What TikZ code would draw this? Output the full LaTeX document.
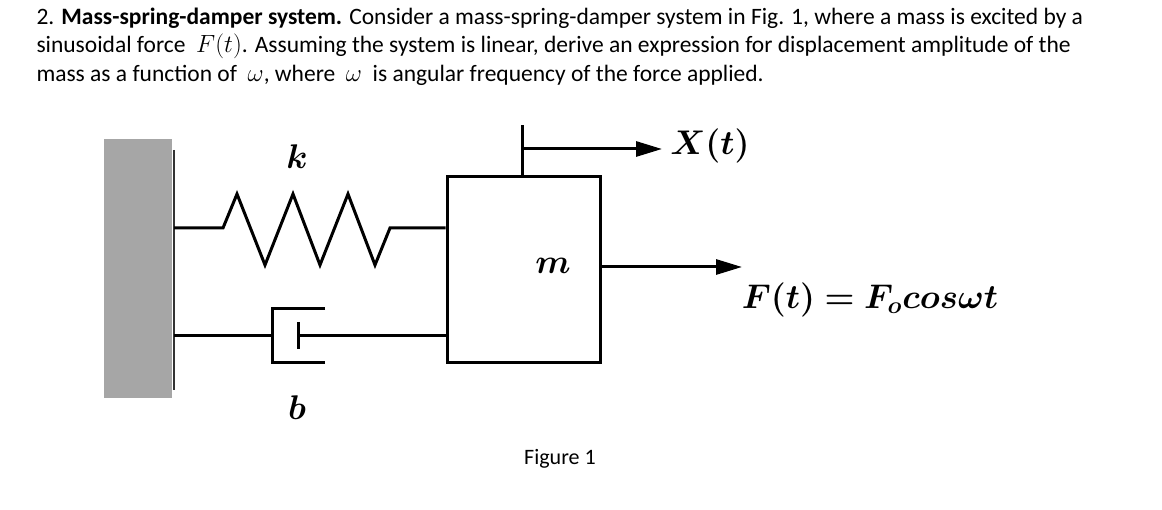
\documentclass[tikz,border=0pt]{standalone}
\usepackage{amsmath,bm}
\usepackage{graphicx}
\usepackage{fontspec}
\setmainfont{Carlito}
\usetikzlibrary{arrows.meta}
\newcommand{\biglbl}[1]{\scalebox{1.65}{$\bm{#1}$}}
\begin{document}
\begin{tikzpicture}[x=1pt,y=-1pt,line width=3pt,
  txt/.style={anchor=west,inner sep=0,font=\fontsize{23.5}{28}\selectfont},
  lbl/.style={inner sep=0,font=\fontsize{20}{24}\selectfont},
  arr/.style={-{Triangle[length=26pt,width=15pt]}}]
\useasboundingbox (0,0) rectangle (1162,510);
\node[txt] (l1) at (35,18) {2. \textbf{Mass-spring-damper system.} Consider a mass-spring-damper system in Fig. 1, where a mass is excited by a};
\node[txt] (l2) at (35,46) {sinusoidal force \ $F(t)$. Assuming the system is linear, derive an expression for displacement amplitude of the};
\node[txt] (l3) at (35,75) {mass as a function of \ $\omega$, where \ $\omega$ \ is angular frequency of the force applied.};
\fill[gray!70!white] (104,139) rectangle (172,398);
\draw[line width=1.5pt,black!80] (174,150) -- (174,390);
\node[draw,minimum width=153pt,minimum height=186pt,inner sep=0] (m) at (523.5,270) {};
\coordinate (ws) at (174,228);
\coordinate (wd) at (174,336);
\draw (ws) -- (223,228) -- (237,194) -- (265,265) -- (293,194) -- (320,265) -- (348,194) -- (375,265) -- (390,228) -- (m.west |- ws);
\draw (wd) -- (272,336);
\draw (325,309) -- (272,309) -- (272,363) -- (325,363);
\draw (298,322) -- (298,349);
\draw (298,336) -- (m.west |- wd);
\coordinate (xt) at (522,125);
\draw (m.north -| xt) -- (xt);
\coordinate (xa) at (522,149);
\coordinate (xe) at (662,149);
\draw[arr] (xa) -- (xe);
\coordinate (fe) at (742,267);
\draw[arr] (m.east |- fe) -- (fe);
\node[lbl] (X) at (710,146) {\biglbl{X(t)}};
\node[lbl] (F) at (870,300) {\biglbl{F(t) = F_o cos\omega t}};
\node[lbl] (mm) at (553,266) {\biglbl{m}};
\node[lbl] (k) at (297,157) {\biglbl{k}};
\node[lbl] (b) at (297,408) {\biglbl{b}};
\node[inner sep=0,font=\fontsize{22}{26}\selectfont] (fig) at (560,459) {Figure 1};
\end{tikzpicture}
\end{document}
